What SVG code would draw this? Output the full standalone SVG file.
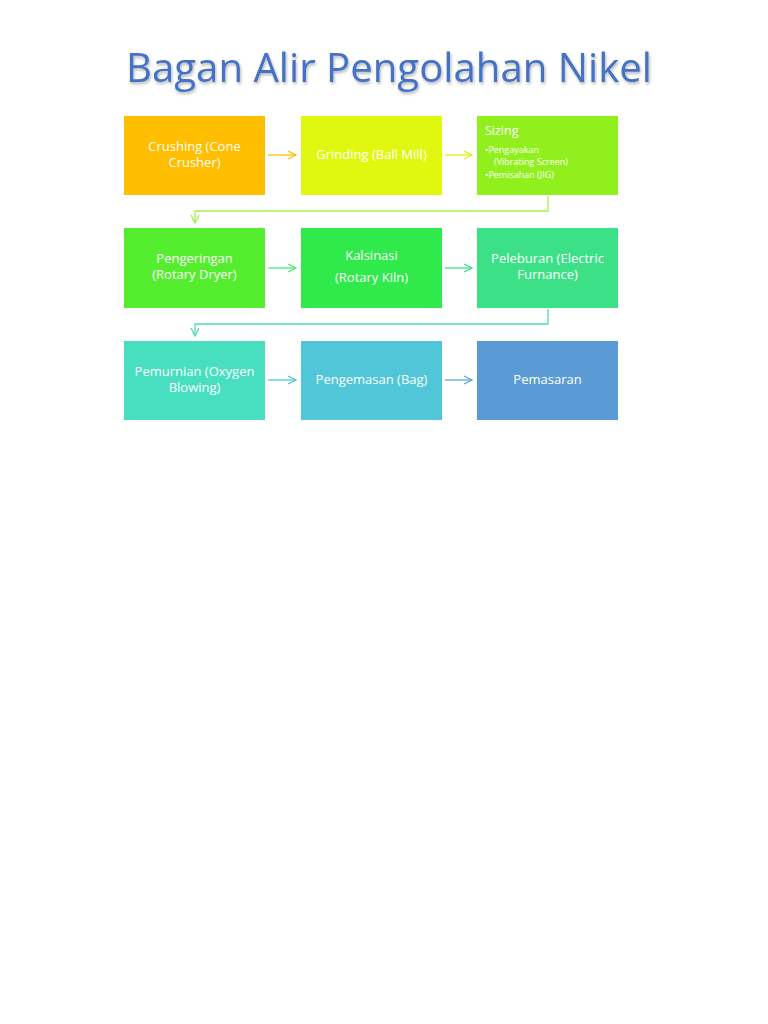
<svg xmlns="http://www.w3.org/2000/svg" width="768" height="1024" viewBox="0 0 768 1024">
<defs>
<filter id="sh" x="-5%" y="-20%" width="110%" height="150%"><feGaussianBlur in="SourceAlpha" stdDeviation="1.5"/><feOffset dx="1" dy="2" result="b"/><feFlood flood-color="#000" flood-opacity="0.3"/><feComposite in2="b" operator="in"/><feMerge><feMergeNode/><feMergeNode in="SourceGraphic"/></feMerge></filter>
<marker id="ah" viewBox="0 0 10 10" refX="9" refY="5" markerWidth="10" markerHeight="10" markerUnits="userSpaceOnUse" orient="auto"><path d="M1,1 L9,5 L1,9" fill="none" stroke="context-stroke" stroke-width="1.3"/></marker>
</defs>
<style>
.t{font-family:"Open Sans","Noto Sans",sans-serif;fill:#fff;font-size:13px;font-weight:500;text-anchor:middle}
.s{font-family:"Open Sans","Noto Sans",sans-serif;fill:#fff}
.c{fill:none;stroke-width:1.3;marker-end:url(#ah)}
</style>
<rect width="768" height="1024" fill="#fff"/>
<text x="389" y="82" font-family="Open Sans, Noto Sans, sans-serif" font-size="40" font-weight="500" fill="#4472C4" text-anchor="middle" textLength="526" lengthAdjust="spacingAndGlyphs" filter="url(#sh)">Bagan Alir Pengolahan Nikel</text>
<g id="connectors">
<path class="c" stroke="#FFC000" d="M268,155 H296"/>
<path class="c" stroke="#E0F010" d="M445,155 H472"/>
<path class="c" stroke="#A8EE50" d="M548,196 V211 H195 V223"/>
<path class="c" stroke="#48E878" d="M268,268 H296"/>
<path class="c" stroke="#3CE08A" d="M445,268 H472"/>
<path class="c" stroke="#50DDB0" d="M548,309 V324 H195 V336"/>
<path class="c" stroke="#50C8D8" d="M268,380 H296"/>
<path class="c" stroke="#5AA8D8" d="M445,380 H472"/>
</g>
<g id="n1"><rect x="124" y="116" width="141" height="79" fill="#FFBE00"/><text class="t" x="194.5" y="151">Crushing (Cone</text><text class="t" x="194.5" y="167">Crusher)</text></g>
<g id="n2"><rect x="301" y="116" width="141" height="79" fill="#E0F80F"/><text class="t" x="371.5" y="159">Grinding (Ball Mill)</text></g>
<g id="n3"><rect x="477" y="116" width="141" height="79" fill="#92EF1E"/>
<text class="s" x="485" y="135" font-size="12.5">Sizing</text>
<text class="s" x="485" y="153" font-size="9">•Pengayakan</text>
<text class="s" x="494" y="165" font-size="9">(Vibrating Screen)</text>
<text class="s" x="485" y="178" font-size="9">•Pemisahan (JIG)</text></g>
<g id="n4"><rect x="124" y="228" width="141" height="80" fill="#55EE2E"/><text class="t" x="194.5" y="263">Pengeringan</text><text class="t" x="194.5" y="279">(Rotary Dryer)</text></g>
<g id="n5"><rect x="301" y="228" width="141" height="80" fill="#30E94A"/><text class="t" x="371.5" y="260">Kalsinasi</text><text class="t" x="371.5" y="282">(Rotary Kiln)</text></g>
<g id="n6"><rect x="477" y="228" width="141" height="80" fill="#3CE187"/><text class="t" x="547.5" y="263">Peleburan (Electric</text><text class="t" x="547.5" y="279">Furnance)</text></g>
<g id="n7"><rect x="124" y="341" width="141" height="79" fill="#47DFC0"/><text class="t" x="194.5" y="376">Pemurnian (Oxygen</text><text class="t" x="194.5" y="392">Blowing)</text></g>
<g id="n8"><rect x="301" y="341" width="141" height="79" fill="#50C6D8"/><text class="t" x="371.5" y="384">Pengemasan (Bag)</text></g>
<g id="n9"><rect x="477" y="341" width="141" height="79" fill="#5B9BD5"/><text class="t" x="547.5" y="384">Pemasaran</text></g>
</svg>
